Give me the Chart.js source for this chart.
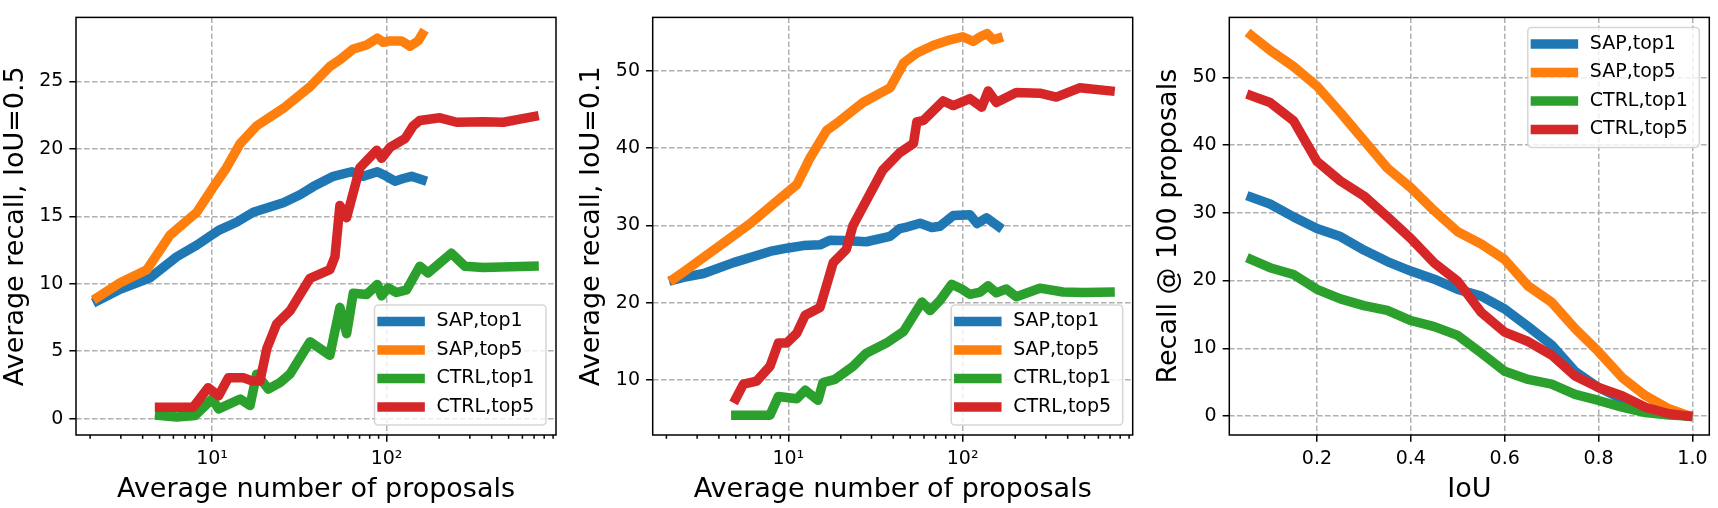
<!DOCTYPE html>
<html>
<head>
<meta charset="utf-8">
<script src="https://cdn.jsdelivr.net/npm/chart.js@4.4.1/dist/chart.umd.min.js"></script>
<style>
  html, body { margin: 0; padding: 0; background: #fff; }
  #wrap { position: relative; width: 1718px; height: 508px; overflow: hidden; background: #fff; }
  .panel { position: absolute; top: 0; height: 508px; }
</style>
</head>
<body>
<div id="wrap">
  <div class="panel" style="left:0px;width:576px"><canvas id="c1" width="576" height="508"></canvas></div>
  <div class="panel" style="left:576px;width:576px"><canvas id="c2" width="576" height="508"></canvas></div>
  <div class="panel" style="left:1153px;width:565px"><canvas id="c3" width="565" height="508"></canvas></div>
</div>
<script>
// --- DATA ---
const seriesLabels = ['SAP,top1', 'SAP,top5', 'CTRL,top1', 'CTRL,top5'];
const seriesColors = ['#1f77b4', '#ff7f0e', '#2ca02c', '#d62728'];

// panel 1: average recall at IoU=0.5 vs. average number of proposals
const p1SapTop1X = [2.2, 2.97, 4.41, 6.27, 8.17, 10.9, 13.8, 17.2, 25.6, 31.9, 38, 49.5, 63, 73.5, 88.5, 100, 111.6, 124.7, 139, 160];
const p1SapTop1Y = [8.74, 9.59, 10.44, 12.0, 12.86, 13.96, 14.56, 15.3, 16.0, 16.6, 17.2, 17.96, 18.3, 17.96, 18.3, 17.96, 17.6, 17.8, 17.96, 17.7];
const p1SapTop5X = [2.2, 2.97, 4.23, 5.74, 8.17, 10.2, 12.1, 14.5, 18.0, 25.6, 31.9, 36.4, 47.3, 54, 64.4, 76.8, 88.5, 95.7, 104.5, 121.9, 136, 151.8, 160];
const p1SapTop5Y = [8.98, 10.07, 11.04, 13.6, 15.3, 17.2, 18.6, 20.4, 21.7, 23.0, 24.0, 24.6, 26.1, 26.6, 27.4, 27.7, 28.2, 27.9, 28.0, 28.0, 27.6, 28.0, 28.5];
const p1CtrlTop1X = [5, 6.27, 8.0, 10, 10.9, 14.5, 16.5, 18, 21, 24.5, 27.9, 36.4, 47.3, 54, 59, 64.4, 76.8, 88.5, 93.6, 102, 114, 130, 155, 173, 235, 281, 358, 700];
const p1CtrlTop1Y = [0.24, 0.12, 0.24, 1.46, 0.73, 1.46, 0.97, 3.3, 2.2, 2.67, 3.3, 5.7, 4.7, 8.25, 6.3, 9.3, 9.2, 9.95, 9.1, 9.7, 9.35, 9.54, 11.3, 10.8, 12.26, 11.3, 11.2, 11.3];
const p1CtrlTop5X = [5, 7.8, 9.5, 10.9, 12.4, 15.1, 16.9, 18.8, 20.6, 23.4, 28, 36.4, 47.3, 50.6, 54, 59, 70.3, 87.7, 93.6, 104.5, 127.4, 142, 155, 202, 252, 358, 467, 581, 700];
const p1CtrlTop5Y = [0.85, 0.85, 2.3, 1.7, 3.03, 3.03, 2.8, 2.8, 5.2, 7.0, 8.0, 10.4, 11.04, 12.0, 15.8, 14.9, 18.6, 19.9, 19.3, 20.1, 20.75, 21.7, 22.1, 22.3, 21.97, 22.0, 21.97, 22.2, 22.4];

// panel 2: average recall at IoU=0.1
const p2SapTop1X = [2.2, 2.51, 3.27, 4.85, 7.85, 10, 12.2, 15.2, 17.3, 20.6, 28, 38.3, 43.5, 47.9, 57, 66.5, 74, 88.4, 110, 121, 137, 160];
const p2SapTop1Y = [22.97, 23.3, 23.8, 25.2, 26.65, 27.1, 27.4, 27.5, 28.1, 28.05, 27.9, 28.6, 29.6, 29.8, 30.3, 29.75, 29.9, 31.3, 31.4, 30.25, 31.0, 29.9];
const p2SapTop5X = [2.2, 2.51, 3.89, 6.04, 7.85, 11.2, 13.3, 16.6, 18.9, 26.8, 38.3, 43.5, 45.8, 54.6, 68, 84.7, 100, 115, 126, 138, 150, 160];
const p2SapTop5Y = [23.1, 24.0, 27.1, 30.25, 32.4, 35.3, 38.7, 42.3, 43.2, 45.9, 47.8, 50.0, 51.0, 52.3, 53.3, 54.0, 54.4, 53.8, 54.4, 54.8, 54.0, 54.2];
const p2CtrlTop1X = [5, 7.85, 8.77, 11.2, 12.5, 14.8, 15.8, 18.5, 23.5, 28, 36.5, 45.8, 58.4, 65, 74, 86.5, 98.7, 110, 126, 140, 156, 178, 203, 277, 376, 490, 700];
const p2CtrlTop1Y = [5.47, 5.47, 7.9, 7.6, 8.7, 7.4, 9.7, 10.1, 11.8, 13.5, 14.8, 16.3, 20.1, 19.0, 20.3, 22.4, 21.8, 21.1, 21.4, 22.2, 21.3, 21.8, 20.8, 21.9, 21.4, 21.35, 21.4];
const p2CtrlTop5X = [5, 5.53, 6.59, 7.85, 8.77, 9.78, 11.2, 12.5, 15.2, 18.1, 21.5, 23.5, 28, 34.9, 43.5, 52.2, 54.6, 59.6, 77.4, 88.4, 110, 128.5, 140, 156, 203, 277, 344, 468, 700];
const p2CtrlTop5Y = [7.6, 9.5, 9.9, 11.8, 14.8, 14.8, 16.1, 18.4, 19.4, 25.2, 26.9, 30.0, 33.2, 37.2, 39.4, 40.6, 43.4, 43.6, 46.1, 45.5, 46.4, 45.3, 47.4, 45.9, 47.2, 47.1, 46.6, 47.8, 47.4];

// panel 3: recall @ 100 proposals vs. IoU
const iouThresholds = [0.06, 0.1, 0.15, 0.2, 0.25, 0.3, 0.35, 0.4, 0.45, 0.5, 0.55, 0.6, 0.65, 0.7, 0.75, 0.8, 0.85, 0.9, 0.95, 0.99];
const p3SapTop1 = [32.3, 31.3, 29.4, 27.7, 26.5, 24.5, 22.8, 21.4, 20.2, 18.7, 17.7, 15.8, 13.2, 10.5, 6.6, 4.2, 2.5, 1.06, 0.34, 0];
const p3SapTop5 = [56.2, 54.0, 51.6, 48.7, 44.8, 40.7, 36.6, 33.7, 30.3, 27.2, 25.4, 23.1, 19.2, 16.8, 12.9, 9.5, 5.7, 3.0, 1.06, 0.1];
const p3CtrlTop1 = [23.1, 21.9, 20.9, 18.7, 17.3, 16.3, 15.6, 14.1, 13.2, 11.9, 9.3, 6.6, 5.4, 4.7, 3.2, 2.3, 1.3, 0.5, 0.15, 0];
const p3CtrlTop5 = [47.3, 46.3, 43.6, 37.6, 34.7, 32.5, 29.4, 26.2, 22.6, 19.9, 15.3, 12.4, 11.0, 9.0, 5.9, 4.2, 3.0, 1.3, 0.34, 0];

// tick values and labels
const logMajorTicks = [10, 100];
const logMajorLabels = ['10\u00b9', '10\u00b2'];
const logMinorTicks = [2, 3, 4, 5, 6, 7, 8, 9, 20, 30, 40, 50, 60, 70, 80, 90, 200, 300, 400, 500, 600, 700, 800, 900];
const p1YTicks = [0, 5, 10, 15, 20, 25];
const p2YTicks = [10, 20, 30, 40, 50];
const p3YTicks = [0, 10, 20, 30, 40, 50];
const p3XTicks = [0.2, 0.4, 0.6, 0.8, 1.0];

// --- helpers ---
const pts = (xs, ys) => xs.map((x, i) => ({ x: x, y: ys[i] }));
const tickFont = { family: 'DejaVu Sans', size: 19 };
const titleFont = { family: 'DejaVu Sans', size: 27 };

// axes frame, minor ticks and a matplotlib-like legend inside the plot
const axesDecor = {
  id: 'axesDecor',
  afterDatasetsDraw(chart, args, opts) {
    const ctx = chart.ctx;
    const a = chart.chartArea;
    ctx.save();

    if (opts.minorTicks) {
      const xs = chart.scales.x;
      ctx.strokeStyle = '#000';
      ctx.lineWidth = 1.5;
      opts.minorTicks.forEach(v => {
        if (v <= xs.min || v >= xs.max) return;
        const px = xs.getPixelForValue(v);
        ctx.beginPath();
        ctx.moveTo(px, a.bottom);
        ctx.lineTo(px, a.bottom + 3.8);
        ctx.stroke();
      });
    }

    ctx.strokeStyle = '#000';
    ctx.lineWidth = 1.5;
    ctx.strokeRect(a.left, a.top, a.right - a.left, a.bottom - a.top);

    const w = 171.5, h = 120, gap = 10;
    const x0 = a.right - gap - w;
    const y0 = opts.corner === 'top' ? a.top + gap : a.bottom - gap - h;
    ctx.beginPath();
    ctx.roundRect(x0, y0, w, h, 3.8);
    ctx.fillStyle = 'rgba(255,255,255,0.8)';
    ctx.fill();
    ctx.strokeStyle = 'rgba(204,204,204,0.8)';
    ctx.lineWidth = 1.5;
    ctx.stroke();

    ctx.font = '19px "DejaVu Sans"';
    ctx.textBaseline = 'middle';
    ctx.textAlign = 'left';
    chart.data.datasets.forEach((ds, i) => {
      const cy = y0 + 16.5 + i * 28.5;
      ctx.strokeStyle = ds.borderColor;
      ctx.lineWidth = 9.5;
      ctx.lineCap = 'square';
      ctx.beginPath();
      ctx.moveTo(x0 + 7.6, cy);
      ctx.lineTo(x0 + 45.6, cy);
      ctx.stroke();
      ctx.fillStyle = '#000';
      ctx.fillText(ds.label, x0 + 62, cy);
    });
    ctx.restore();
  }
};

function makeChart(id, p) {
  return new Chart(document.getElementById(id), {
    type: 'line',
    data: {
      datasets: p.series.map((s, i) => ({
        label: seriesLabels[i],
        data: s,
        borderColor: seriesColors[i],
        backgroundColor: seriesColors[i],
        borderWidth: 9.5,
        borderCapStyle: 'square',
        borderJoinStyle: 'round',
        pointRadius: 0,
        tension: 0,
        fill: false,
        order: 4 - i   // later series drawn on top, as in the original
      }))
    },
    options: {
      responsive: false,
      animation: false,
      events: [],
      layout: { padding: { top: 10, right: p.padRight, bottom: 0, left: 0 } },
      plugins: {
        legend: { display: false },
        tooltip: { enabled: false },
        axesDecor: { corner: p.legendCorner, minorTicks: p.minorTicks }
      },
      scales: {
        x: {
          type: p.xType,
          min: p.xMin,
          max: p.xMax,
          afterFit: s => { s.height = 73; },
          afterBuildTicks: s => { s.ticks = p.xTicks.map(v => ({ value: v })); },
          grid: { color: '#b0b0b0', lineWidth: 1.5, tickLength: 6.65, tickWidth: 1.5, tickColor: '#000', tickBorderDash: [] },
          border: { display: false, dash: [5.6, 2.4] },
          ticks: { autoSkip: false, maxRotation: 0, minRotation: 0, padding: 6, color: '#000', font: tickFont, callback: p.xLabel },
          title: { display: true, text: p.xTitle, color: '#000', font: titleFont, padding: { top: 0, bottom: 2 } }
        },
        y: {
          type: 'linear',
          min: p.yMin,
          max: p.yMax,
          afterFit: s => { s.width = p.yAxisWidth; },
          afterBuildTicks: s => { s.ticks = p.yTicks.map(v => ({ value: v })); },
          grid: { color: '#b0b0b0', lineWidth: 1.5, tickLength: 6.65, tickWidth: 1.5, tickColor: '#000', tickBorderDash: [] },
          border: { display: false, dash: [5.6, 2.4] },
          ticks: { autoSkip: false, padding: 6, color: '#000', font: tickFont },
          title: { display: true, text: p.yTitle, color: '#000', font: titleFont, padding: { top: 0, bottom: 0 } }
        }
      }
    },
    plugins: [axesDecor]
  });
}

const logLabel = v => {
  const i = logMajorTicks.indexOf(v);
  return i >= 0 ? logMajorLabels[i] : '';
};

makeChart('c1', {
  series: [pts(p1SapTop1X, p1SapTop1Y), pts(p1SapTop5X, p1SapTop5Y), pts(p1CtrlTop1X, p1CtrlTop1Y), pts(p1CtrlTop5X, p1CtrlTop5Y)],
  xType: 'logarithmic', xMin: 1.66, xMax: 935, xTicks: logMajorTicks, xLabel: logLabel, minorTicks: logMinorTicks,
  yMin: -1.21, yMax: 29.74, yTicks: p1YTicks,
  xTitle: 'Average number of proposals', yTitle: 'Average recall, IoU=0.5',
  yAxisWidth: 76, padRight: 20, legendCorner: 'bottom'
});

makeChart('c2', {
  series: [pts(p2SapTop1X, p2SapTop1Y), pts(p2SapTop5X, p2SapTop5Y), pts(p2CtrlTop1X, p2CtrlTop1Y), pts(p2CtrlTop5X, p2CtrlTop5Y)],
  xType: 'logarithmic', xMin: 1.669, xMax: 944, xTicks: logMajorTicks, xLabel: logLabel, minorTicks: logMinorTicks,
  yMin: 2.92, yMax: 56.9, yTicks: p2YTicks,
  xTitle: 'Average number of proposals', yTitle: 'Average recall, IoU=0.1',
  yAxisWidth: 76.7, padRight: 19.3, legendCorner: 'bottom'
});

makeChart('c3', {
  series: [pts(iouThresholds, p3SapTop1), pts(iouThresholds, p3SapTop5), pts(iouThresholds, p3CtrlTop1), pts(iouThresholds, p3CtrlTop5)],
  xType: 'linear', xMin: 0.0132, xMax: 1.036, xTicks: p3XTicks, xLabel: v => Number(v).toFixed(1), minorTicks: null,
  yMin: -2.8, yMax: 58.85, yTicks: p3YTicks,
  xTitle: 'IoU', yTitle: 'Recall @ 100 proposals',
  yAxisWidth: 76.3, padRight: 8.7, legendCorner: 'top'
});
</script>
</body>
</html>
